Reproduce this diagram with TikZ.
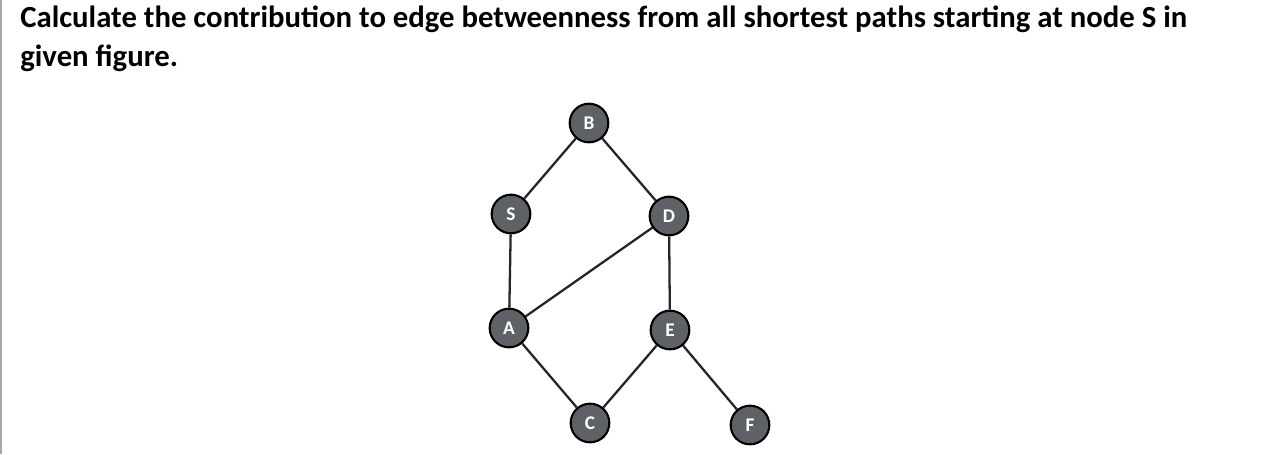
\documentclass[tikz,border=0pt]{standalone}
\usepackage{fontspec}
\setmainfont{Carlito}
\begin{document}
\begin{tikzpicture}[x=0.02cm,y=-0.02cm,
  vert/.style={circle,draw=black,line width=1.2pt,fill=nodegray,text=white,font=\bfseries\fontsize{11}{12}\selectfont,minimum size=22pt,inner sep=0pt},
  edge/.style={draw=black!85,line width=1.3pt}]
\definecolor{nodegray}{HTML}{5E6266}
\useasboundingbox (0,0) rectangle (1276,454);
\draw[black!35,line width=1.2pt] (1,0) -- (1,454);
\node[anchor=base west,inner sep=0pt,font=\bfseries\fontsize{17.5}{20}\selectfont] (t1) at (20,27) {Calculate the contribution to edge betweenness from all shortest paths starting at node S in};
\node[anchor=base west,inner sep=0pt,font=\bfseries\fontsize{17.5}{20}\selectfont] (t2) at (20,66) {given figure.};
\node[vert] (B) at (589,123) {B};
\node[vert] (S) at (511,214) {S};
\node[vert] (D) at (669,216) {D};
\node[vert] (A) at (509,328) {A};
\node[vert] (E) at (670,330) {E};
\node[vert] (C) at (590,423) {C};
\node[vert] (F) at (750,425) {F};
\path[edge] (S) -- (B);
\path[edge] (B) -- (D);
\path[edge] (S) -- (A);
\path[edge] (A) -- (D);
\path[edge] (D) -- (E);
\path[edge] (A) -- (C);
\path[edge] (C) -- (E);
\path[edge] (E) -- (F);
\end{tikzpicture}
\end{document}
